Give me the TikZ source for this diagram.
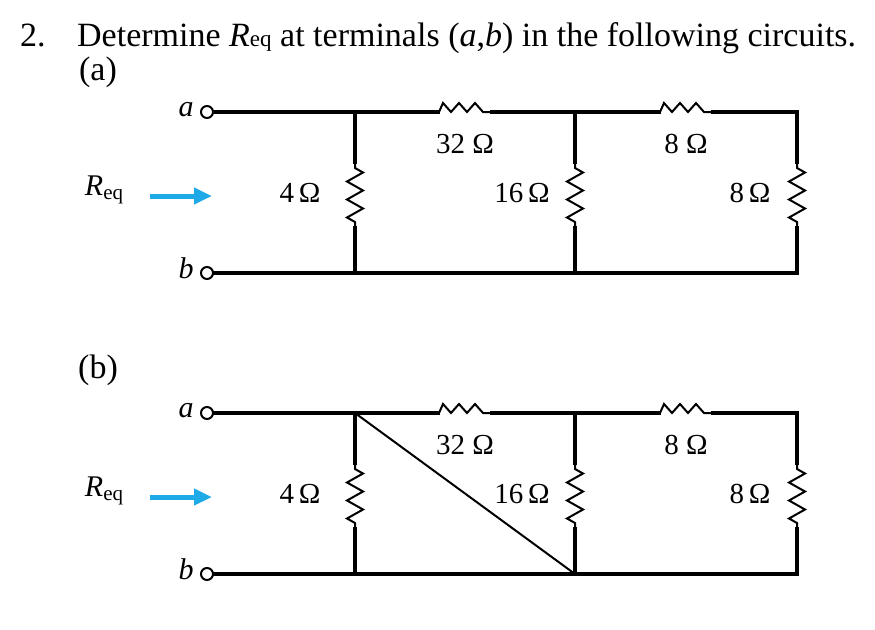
\documentclass[tikz,border=0pt]{standalone}
\usepackage{fontspec}
\setmainfont{Liberation Serif}
\usetikzlibrary{arrows.meta}
\tikzset{
  wire/.style={line width=3.6pt,line join=miter},
  term/.style={circle,draw,line width=2pt,fill=white,minimum size=12pt,inner sep=0pt},
  lbl/.style={font=\fontsize{29}{30}\selectfont,inner sep=0pt},
  vres/.pic={\draw[line width=2pt] (0,-31) -- (0,-27) -- (8,-22.5) -- (-8,-13.5) -- (8,-4.5) -- (-8,4.5) -- (8,13.5) -- (-8,22.5) -- (0,27) -- (0,31);},
  hres/.pic={\draw[line width=2pt] (-26,0) -- (-22,-9) -- (-14,0) -- (-6,-9) -- (2,0) -- (10,-9) -- (18,0) -- (26,0);},
}
\begin{document}
\begin{tikzpicture}[x=1pt,y=-1pt]
\useasboundingbox (0,0) rectangle (875,629);
\node[anchor=base west,font=\fontsize{34}{36}\selectfont,inner sep=0pt] (num) at (20,46) {2.};
\node[anchor=base west,font=\fontsize{34}{36}\selectfont,inner sep=0pt] (title) at (77,46) {Determine \textit{R}{\fontsize{23}{24}\selectfont eq} at terminals (\textit{a},\textit{b}) in the following circuits.};
\node[font=\fontsize{34}{36}\selectfont,inner sep=0pt] (la) at (98,72) {(a)};
\node[font=\fontsize{34}{36}\selectfont,inner sep=0pt] (lb) at (98,370) {(b)};
\foreach \yo/\pr in {0/A,301/B}{
\begin{scope}[yshift=-\yo]
\coordinate (\pr ta) at (207,112);
\coordinate (\pr tb) at (207,273);
\coordinate (\pr n1) at (355,112);
\coordinate (\pr n2) at (575,112);
\coordinate (\pr n3) at (797,112);
\coordinate (\pr m1) at (355,273);
\coordinate (\pr m2) at (575,273);
\coordinate (\pr m3) at (797,273);
\draw[wire] (\pr ta) -- (440,112) (490,112) -- (661,112) (711,112) -- (\pr n3) -- (797,164) (797,226) -- (\pr m3) -- (\pr tb);
\draw[wire] (\pr n1) -- (355,164) (355,226) -- (\pr m1);
\draw[wire] (\pr n2) -- (575,164) (575,226) -- (\pr m2);
\pic at (355,195) {vres};
\pic at (575,195) {vres};
\pic at (797,195) {vres};
\pic at (465,112) {hres};
\pic at (686,112) {hres};
\node[term] (\pr A) at (\pr ta) {};
\node[term] (\pr B) at (\pr tb) {};
\node[lbl,font=\fontsize{30}{30}\selectfont\itshape] at (186,110) {a};
\node[lbl,font=\fontsize{30}{30}\selectfont\itshape] at (186,268) {b};
\node[lbl] at (465,144) {32 Ω};
\node[lbl] at (686,144) {8 Ω};
\node[lbl] at (300,193) {4\,Ω};
\node[lbl] at (522,193) {16\,Ω};
\node[lbl] at (750,193) {8\,Ω};
\node[lbl,font=\fontsize{30}{30}\selectfont] (\pr R) at (104,190) {\textit{R}{\fontsize{21}{22}\selectfont\raisebox{-4pt}{eq}}};
\coordinate (\pr arr) at (212,196);
\draw[line width=5pt,color={rgb,255:red,30;green,170;blue,230},-{Triangle[length=18pt,width=16pt]}] (150,196) -- (\pr arr);
\end{scope}}
\draw[line width=2pt] (Bn1) -- (Bm2);
\end{tikzpicture}
\end{document}
